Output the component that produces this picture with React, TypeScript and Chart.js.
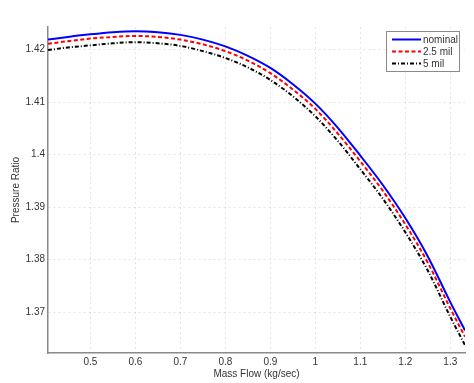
import React, { useEffect, useRef } from "react";
import { Chart, registerables } from "chart.js";

Chart.register(...registerables);

const massFlow = [0.4057, 0.45, 0.5, 0.55, 0.6, 0.65, 0.7, 0.75, 0.8, 0.85, 0.9, 0.95, 1.0, 1.05, 1.1, 1.15, 1.2, 1.25, 1.3, 1.3327];
const nominal = [1.4219, 1.4224, 1.4229, 1.4233, 1.4235, 1.4233, 1.4228, 1.4219, 1.4206, 1.4188, 1.4165, 1.4134, 1.4097, 1.4051, 1.3998, 1.3942, 1.3879, 1.3806, 1.3719, 1.3665];
const mil25 = [1.4211, 1.4216, 1.4221, 1.4224, 1.4226, 1.4224, 1.4219, 1.4210, 1.4197, 1.4179, 1.4155, 1.4124, 1.4087, 1.4040, 1.3987, 1.3931, 1.3867, 1.3794, 1.3707, 1.3653];
const mil5 = [1.4199, 1.4204, 1.4208, 1.4212, 1.4214, 1.4212, 1.4207, 1.4197, 1.4184, 1.4166, 1.4142, 1.4111, 1.4073, 1.4026, 1.3972, 1.3916, 1.3852, 1.3779, 1.3691, 1.3637];
const seriesLabels = ["nominal", "2.5 mil", "5 mil"];
const xTicks = [0.5, 0.6, 0.7, 0.8, 0.9, 1, 1.1, 1.2, 1.3];
const yTicks = [1.37, 1.38, 1.39, 1.4, 1.41, 1.42];
const xTitle = "Mass Flow (kg/sec)";
const yTitle = "Pressure Ratio";

const colors = ["#0000ff", "#ff0000", "#000000"];
const dashes: number[][] = [[], [4, 2.5], [4, 2, 1, 2]];
const FONT = "Liberation Sans, Arial, sans-serif";

const legendPlugin = {
  id: "customLegend",
  afterDraw(chart: any) {
    const ctx = chart.ctx;
    const x0 = 386.5, y0 = 31.5, w = 73, h = 40;
    ctx.save();
    ctx.fillStyle = "#ffffff";
    ctx.fillRect(x0, y0, w, h);
    ctx.strokeStyle = "#8a8a8a";
    ctx.lineWidth = 1;
    ctx.strokeRect(x0, y0, w, h);
    const rows = [39.5, 51.5, 63.5];
    seriesLabels.forEach((lab, i) => {
      ctx.beginPath();
      ctx.setLineDash(dashes[i]);
      ctx.strokeStyle = colors[i];
      ctx.lineWidth = 2;
      ctx.moveTo(392, rows[i]);
      ctx.lineTo(421, rows[i]);
      ctx.stroke();
      ctx.setLineDash([]);
      ctx.fillStyle = "#333333";
      ctx.font = `10px ${FONT}`;
      ctx.textBaseline = "middle";
      ctx.textAlign = "left";
      ctx.fillText(lab, 423, rows[i] + 0.5);
    });
    ctx.restore();
  },
};

export default function App() {
  const ref = useRef<HTMLCanvasElement | null>(null);
  useEffect(() => {
    document.body.style.margin = "0";
    const series = [nominal, mil25, mil5];
    const chart = new Chart(ref.current as HTMLCanvasElement, {
      type: "line",
      data: {
        datasets: series.map((s, i) => ({
          label: seriesLabels[i],
          data: massFlow.map((x, j) => ({ x, y: s[j] })),
          borderColor: colors[i],
          borderWidth: 2,
          borderDash: dashes[i],
          pointRadius: 0,
          cubicInterpolationMode: "monotone" as const,
          fill: false,
        })),
      },
      options: {
        animation: false,
        responsive: false,
        events: [],
        layout: { padding: { top: 27, right: 9, left: 0, bottom: 0 } },
        plugins: { legend: { display: false }, tooltip: { enabled: false } },
        scales: {
          x: {
            type: "linear",
            min: 0.4057,
            max: 1.3327,
            afterBuildTicks: (s: any) => {
              s.ticks = xTicks.map((v) => ({ value: v }));
            },
            afterFit: (s: any) => {
              s.height = 30;
            },
            ticks: {
              callback: (v: any) => String(v),
              color: "#333333",
              font: { family: FONT, size: 10 },
              padding: 3,
              maxRotation: 0,
            },
            grid: {
              color: "rgba(0,0,0,0.1)",
              drawTicks: false,
            },
            border: { color: "#8a8a8a", width: 1.5, dash: [2, 3] },
            title: {
              display: true,
              text: xTitle,
              color: "#333333",
              font: { family: FONT, size: 10 },
              padding: { top: 0, bottom: 3 },
            },
          },
          y: {
            type: "linear",
            min: 1.3622,
            max: 1.4243,
            afterBuildTicks: (s: any) => {
              s.ticks = yTicks.map((v) => ({ value: v }));
            },
            afterFit: (s: any) => {
              s.width = 48;
            },
            ticks: {
              callback: (v: any) => String(v),
              color: "#333333",
              font: { family: FONT, size: 10 },
              padding: 3,
            },
            grid: {
              color: "rgba(0,0,0,0.1)",
              drawTicks: false,
            },
            border: { color: "#8a8a8a", width: 1.5, dash: [2, 3] },
            title: {
              display: true,
              text: yTitle,
              color: "#333333",
              font: { family: FONT, size: 10 },
              padding: { top: 10, bottom: 0 },
            },
          },
        },
      },
      plugins: [legendPlugin],
    } as any);
    return () => chart.destroy();
  }, []);
  return (
    <div style={{ width: 474, height: 383 }}>
      <canvas ref={ref} width={474} height={383} />
    </div>
  );
}
